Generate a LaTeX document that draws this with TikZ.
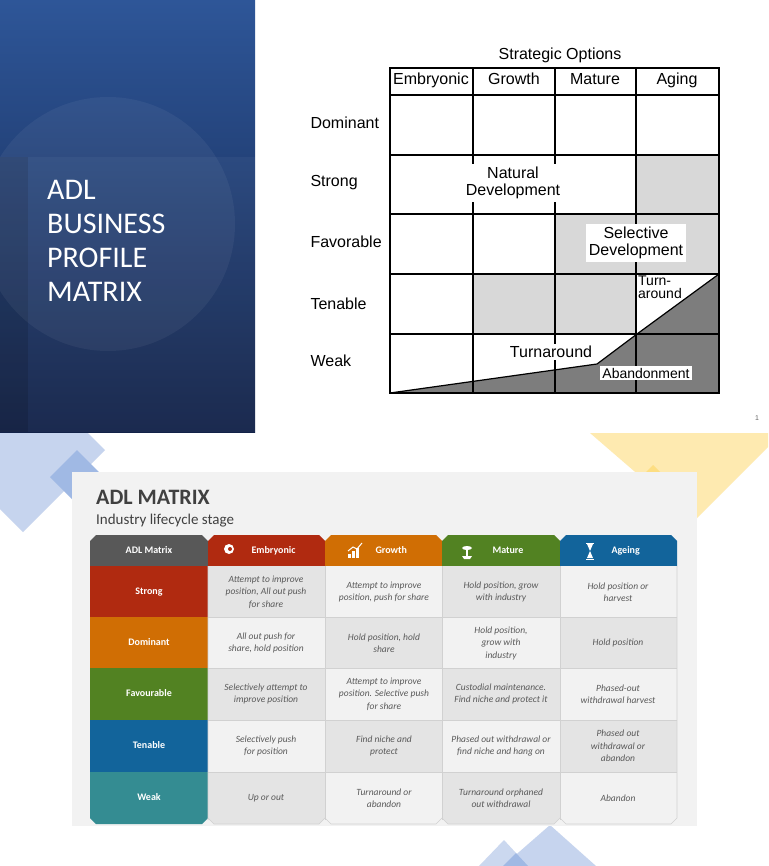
\documentclass[tikz,border=0pt]{standalone}
\usepackage{fontspec}
\setmainfont{Liberation Sans}
\newfontfamily\carl{Carlito}
\usetikzlibrary{calc}
\definecolor{cRed}{RGB}{176,42,16}
\definecolor{cOra}{RGB}{208,110,4}
\definecolor{cGre}{RGB}{82,130,34}
\definecolor{cBlu}{RGB}{18,100,155}
\definecolor{cTea}{RGB}{52,140,146}
\definecolor{cHdr}{RGB}{88,88,88}
\definecolor{cLt}{RGB}{242,242,242}
\definecolor{cDk}{RGB}{228,228,228}
\definecolor{lgray}{RGB}{216,216,216}
\definecolor{dgray}{RGB}{125,125,125}
\definecolor{decoB}{RGB}{198,212,238}
\definecolor{decoB2}{RGB}{160,185,228}
\definecolor{decoY}{RGB}{254,234,176}
\definecolor{decoY2}{RGB}{253,222,130}
\tikzset{
  mlab/.style={font=\fontsize{16}{16}\selectfont, inner sep=1pt},
  rlab/.style={font=\fontsize{16}{16}\selectfont, anchor=west},
  cell/.style={font=\carl\itshape\fontsize{9.5}{12.5}\selectfont, text=black!65, align=center},
  rowlab/.style={font=\carl\bfseries\fontsize{10}{12}\selectfont, text=white, text height=7pt, text depth=2pt},
  hlab/.style={font=\carl\bfseries\fontsize{10}{12}\selectfont, text=white, anchor=west, text height=7pt, text depth=2pt},
}
\begin{document}
\begin{tikzpicture}[x=1pt,y=-1pt]
\useasboundingbox (0,0) rectangle (768,866);
\fill[white] (0,0) rectangle (768,866);
% decorations
\fill[decoB] (105,450) -- (23,532) -- (-59,450) -- (23,368) -- cycle;
\fill[decoB2] (77,450) -- (104,477) -- (77,504) -- (50,477) -- cycle;
\fill[decoY] (590,433) -- (768,433) -- (768,447) -- (693,522) -- cycle;
\fill[decoY2] (653,465) -- (640,478) -- (666,478) -- cycle;
\fill[decoB] (550,825) -- (596,866) -- (503,866) -- cycle;
\fill[decoB,opacity=0.9] (504,840) -- (528,866) -- (479,866) -- cycle;
\fill[decoB2] (516,853) -- (528,866) -- (503,866) -- cycle;
% left slide
\shade[top color={rgb,255:red,46;green,86;blue,152}, bottom color={rgb,255:red,18;green,34;blue,72}] (0,0) rectangle (255,432);
\fill[white,opacity=0.04] (0,157) rectangle (255,432);
\fill[black,opacity=0.12] (0,157) rectangle (28,432);
\fill[white,opacity=0.05] (108,224) circle (127);
\node[font=\carl\fontsize{30}{34}\selectfont, text=white, align=left, anchor=north west, inner sep=0] (title) at (47,180) {ADL\\BUSINESS\\PROFILE\\MATRIX};
\node[font=\fontsize{7}{7}\selectfont, text=black!60] (pg) at (757,418) {1};
% top matrix
\fill[lgray] (636,155) rectangle (719,214);
\fill[lgray] (555,214) rectangle (719,274);
\fill[lgray] (473,274) rectangle (636,334);
\coordinate (p1) at (390,393);
\coordinate (p2) at (597,364);
\coordinate (p3) at (637,334);
\coordinate (p4) at (719,274);
\coordinate (p5) at (719,393);
\fill[dgray] (p1) -- (p2) -- (p3) -- (p4) -- (p5) -- cycle;
\draw[line width=1.6pt] (390,68) rectangle (719,393);
\foreach \y in {95,155,214,274,334} \draw[line width=1.6pt] (390,\y) -- (719,\y);
\foreach \x in {473,555,636} \draw[line width=1.6pt] (\x,68) -- (\x,393);
\draw[line width=1.2pt] (p1) -- (p2) -- (p3) -- (p4);
\tikzset{hd/.style={mlab, text height=11pt, text depth=3pt}}
\node[mlab] (so) at (560,55) {Strategic Options};
\node[hd] (h1) at (431,81) {Embryonic};
\node[hd] (h2) at (514,81) {Growth};
\node[hd] (h3) at (595,81) {Mature};
\node[hd] (h4) at (677,81) {Aging};
\node[rlab] (r1) at (307,123) {Dominant};
\node[rlab] (r2) at (307,183) {Strong};
\node[rlab] (r3) at (307,242) {Favorable};
\node[rlab] (r4) at (307,304) {Tenable};
\node[rlab] (r5) at (307,361) {Weak};
\node[mlab, fill=white, align=center, font=\fontsize{16}{17}\selectfont, inner sep=3pt] (nd) at (513,183) {Natural\\Development};
\node[mlab, fill=white, align=center, font=\fontsize{16}{17}\selectfont, inner sep=3pt] (sd) at (636,243) {Selective\\Development};
\node[mlab, align=left, font=\fontsize{14}{12.5}\selectfont, anchor=north west, inner sep=1pt] (ta) at (637,275) {Turn-\\around};
\node[mlab, fill=white, inner sep=2pt] (tu) at (551,352) {Turnaround};
\node[mlab, fill=white, font=\fontsize{14}{14}\selectfont, inner sep=2pt] (ab) at (646,373) {Abandonment};
% bottom slide
\fill[cLt] (72,472) rectangle (697,826);
\node[font=\carl\bfseries\fontsize{22}{22}\selectfont, text=black!75, anchor=west, inner sep=0] (t2) at (96,497) {ADL MATRIX};
\node[font=\carl\fontsize{15}{15}\selectfont, text=black!75, anchor=west, inner sep=0] (st) at (96,521) {Industry lifecycle stage};
% headers
\foreach \xa/\xb/\c in {90/208/cHdr,208/325/cRed,325/442/cOra,442/560/cGre,560/677/cBlu}{
  \fill[\c] (\xa,566) -- (\xa,541) -- (\xa+6,535) -- (\xb-6,535) -- (\xb,541) -- (\xb,566) -- ({(\xa+\xb)/2},570) -- cycle;
}
\node[rowlab] (hA) at (149,551) {ADL Matrix};
\node[hlab] (hE) at (248,551) {Embryonic};
\node[hlab] (hG) at (372,551) {Growth};
\node[hlab] (hM) at (489,551) {Mature};
\node[hlab] (hAg) at (608,551) {Ageing};
% icons
\fill[white] (229,549) circle (5); \fill[cRed] (230,549) circle (2);
\foreach \i/\h in {0/4,1/7,2/10} \fill[white] (348+\i*4,558-\h) rectangle (351+\i*4,558);
\draw[white,line width=1pt] (348,551) -- (353,547) -- (357,549) -- (362,543);
\fill[white] (462,556) -- (472,556) -- (470,559) -- (464,559) -- cycle;
\draw[white,line width=1.2pt] (467,556) -- (467,547);
\fill[white] (467,548) ellipse (5 and 2);
\draw[white,line width=1pt] (586,543) -- (594,543) (586,559) -- (594,559);
\fill[white] (587,544) -- (593,544) -- (590,551) -- (593,558) -- (587,558) -- (590,551) -- cycle;
% row cells
\foreach \ya/\yb/\c [count=\r] in {566/617/cRed,617/668/cOra,668/720/cGre,720/772/cBlu}{
  \fill[\c] (90,\ya) rectangle (208,\yb);
  \foreach \xa/\xb [count=\k] in {208/325,325/442,442/560,560/677}{
    \pgfmathparse{mod(\r+\k,2)==0 ? "cDk" : "cLt"}
    \edef\fc{\pgfmathresult}
    \fill[\fc] (\xa,\ya) rectangle (\xb,\yb);
  }
}
\fill[cTea] (90,772) -- (208,772) -- (208,818) -- (202,824) -- (96,824) -- (90,818) -- cycle;
\foreach \xa/\xb/\fc in {208/325/cDk,325/442/cLt,442/560/cDk,560/677/cLt}{
  \fill[\fc] (\xa,772) -- (\xb,772) -- (\xb,818) -- (\xb-6,824) -- (\xa+6,824) -- (\xa,818) -- cycle;
}
\foreach \x in {325,442,560} \draw[black!18, line width=0.6pt] (\x,566) -- (\x,820);
\foreach \y in {617,668,720,772} \draw[black!18, line width=0.6pt] (208,\y) -- (677,\y);
\draw[black!18, line width=0.6pt] (208,566) -- (208,820) (677,566) -- (677,818) -- (671,824) -- (566,824) -- (560,818) -- (554,824) -- (448,824) -- (442,818) -- (436,824) -- (331,824) -- (325,818) -- (319,824) -- (214,824) -- (208,818);
\node[rowlab] (rS) at (149,592) {Strong};
\node[rowlab] (rD) at (149,643) {Dominant};
\node[rowlab] (rF) at (149,694) {Favourable};
\node[rowlab] (rT) at (149,746) {Tenable};
\node[rowlab] (rW) at (149,798) {Weak};
\node[cell] (c11) at (266,592) {Attempt to improve\\position, All out push\\for share};
\node[cell] (c12) at (384,592) {Attempt to improve\\position, push for share};
\node[cell] (c13) at (501,592) {Hold position, grow\\with industry};
\node[cell] (c14) at (618,592) {Hold position or\\harvest};
\node[cell] (c21) at (266,643) {All out push for\\share, hold position};
\node[cell] (c22) at (384,643) {Hold position, hold\\share};
\node[cell] (c23) at (501,643) {Hold position,\\grow with\\industry};
\node[cell] (c24) at (618,643) {Hold position};
\node[cell] (c31) at (266,694) {Selectively attempt to\\improve position};
\node[cell] (c32) at (384,694) {Attempt to improve\\position. Selective push\\for share};
\node[cell] (c33) at (501,694) {Custodial maintenance.\\Find niche and protect it};
\node[cell] (c34) at (618,694) {Phased-out\\withdrawal harvest};
\node[cell] (c41) at (266,746) {Selectively push\\for position};
\node[cell] (c42) at (384,746) {Find niche and\\protect};
\node[cell] (c43) at (501,746) {Phased out withdrawal or\\find niche and hang on};
\node[cell] (c44) at (618,746) {Phased out\\withdrawal or\\abandon};
\node[cell] (c51) at (266,798) {Up or out};
\node[cell] (c52) at (384,798) {Turnaround or\\abandon};
\node[cell] (c53) at (501,798) {Turnaround orphaned\\out withdrawal};
\node[cell] (c54) at (618,798) {Abandon};
\end{tikzpicture}
\end{document}
